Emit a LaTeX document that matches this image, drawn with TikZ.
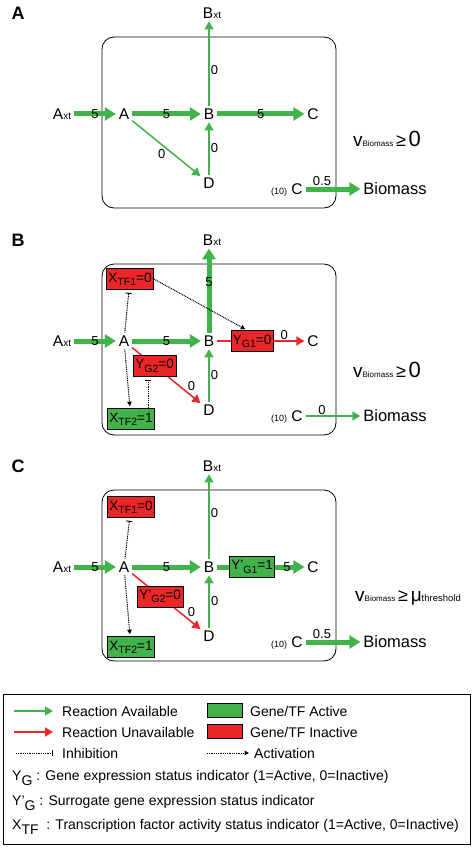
\documentclass[tikz,border=0pt]{standalone}
\usepackage{fontspec}
\setmainfont{Liberation Sans}
\usetikzlibrary{arrows.meta,positioning}
\definecolor{rgreen}{RGB}{66,178,74}
\definecolor{rred}{RGB}{234,38,40}
\newcommand\tn[2][10]{{\fontsize{#1}{#1}\selectfont #2}}
\newcommand\dn[1]{\raisebox{-0.45ex}{\fontsize{10.5}{10.5}\selectfont #1}}
\tikzset{
  panel/.style={font=\bfseries\fontsize{18}{18}\selectfont},
  cell/.style={line width=0.8pt, rounded corners=12pt},
  met/.style={font=\fontsize{15.5}{15.5}\selectfont, inner sep=1pt, outer sep=2pt},
  flux/.style={font=\fontsize{13}{13}\selectfont, inner sep=1pt},
  fat/.style={draw=rgreen, line width=5pt, -{Triangle[length=11pt,width=13pt]}},
  slim/.style={draw=rgreen, line width=1.5pt, -{Triangle[length=8pt,width=9pt]}},
  off/.style={slim, draw=rred},
  gene/.style={draw=black, line width=0.6pt, fill=#1, inner sep=2pt,
    minimum height=21pt, font=\fontsize{13.5}{13.5}\selectfont},
  inhib/.style={dash pattern=on 1pt off 0.8pt, line width=1pt, shorten >=3pt,
    -{Bar[width=6pt,line width=1pt]}},
  activ/.style={dash pattern=on 1pt off 0.8pt, line width=1pt, shorten >=2pt,
    -{Triangle[length=4.5pt,width=4.5pt]}},
  legtxt/.style={anchor=west, font=\fontsize{14}{14}\selectfont, inner sep=0pt},
}
\begin{document}
\begin{tikzpicture}[x=1pt,y=-1pt]
  \useasboundingbox (0,0) rectangle (474,848);
  % common part of the three panels
  \foreach \p/\o/\L in {a/0/A, b/227/B, c/453/C} {
    \node[panel] (\p lbl) at (18,13+\o) {\L};
    \draw[cell] (102,37+\o) rectangle (336,208+\o);
    \node[met] (\p Axt) at (62,114+\o) {A\tn{xt}};
    \node[met] (\p A) at (124,114+\o) {A};
    \node[met] (\p B) at (209,114+\o) {B};
    \node[met] (\p C) at (313,114+\o) {C};
    \node[met] (\p D) at (209,183+\o) {D};
    \node[met] (\p Bxt) at (212,13+\o) {B\tn{xt}};
    \node[met] (\p cC) at (297,189+\o) {C};
    \node[font=\fontsize{9}{9}\selectfont, inner sep=0pt, base left=1pt of \p cC] (\p ten) {(10)};
    \node[met, font=\fontsize{16.5}{16.5}\selectfont] (\p bio) at (395,189+\o) {Biomass};
    \draw[fat] (\p Axt) -- node[flux]{5} (\p A);
    \draw[fat] (\p A) -- node[flux]{5} (\p B);
  }

  % panel A
  \draw[slim] (aB.north) -- node[flux,right,pos=0.42]{0} (aB.north |- aBxt.south);
  \draw[fat] (aB) -- node[flux]{5} (aC);
  \draw[slim] (aD) -- node[flux,right]{0} (aB);
  \draw[slim] (aA) -- node[flux,below left=-1pt]{0} (aD);
  \draw[fat] (acC) -- node[flux,above,pos=0.3]{0.5} (abio);
  \node (avb) at (387,139) {\tn[19]{v}\tn[8]{Biomass} \tn[18]{≥} \tn[22]{0}};

  % panel B
  \node[gene=rred] (bXTF1) at (130,279) {X\dn{TF1}=0};
  \node[gene=rgreen] (bXTF2) at (131,419) {X\dn{TF2}=1};
  \draw[fat] (bB.north) -- node[flux,pos=0.6]{5} (bB.north |- bBxt.south);
  \draw[slim] (bD) -- node[flux,right]{0} (bB);
  \draw[off] (bA) -- node[gene=rred,pos=0.33] (bYG2) {Y\dn{G2}=0}
    node[flux,above right=-1pt,pos=0.8]{0} (bD);
  \draw[off] (bB) -- node[gene=rred,pos=0.4] (bYG1) {Y\dn{G1}=0}
    node[flux,above,pos=0.77]{0} (bC);
  \draw[inhib] (bA) -- (bXTF1);
  \draw[activ] (bA) -- (bXTF2);
  \draw[inhib] ([xshift=17pt]bXTF2.north) -- ([xshift=17pt]bXTF2.north |- bYG2.south);
  \draw[activ] (bXTF1.east) -- ([xshift=-5pt]bYG1.north);
  \draw[slim] (bcC) -- node[flux,above,pos=0.3]{0} (bbio);
  \node (bvb) at (387,370) {\tn[19]{v}\tn[8]{Biomass} \tn[18]{≥} \tn[22]{0}};

  % panel C
  \node[gene=rred] (cXTF1) at (131,507) {X\dn{TF1}=0};
  \node[gene=rgreen] (cXTF2) at (131,647) {X\dn{TF2}=1};
  \draw[slim] (cB.north) -- node[flux,right,pos=0.54]{0} (cB.north |- cBxt.south);
  \draw[fat] (cB) -- node[gene=rgreen,pos=0.4] (cYG1) {Y’\dn{G1}=1}
    node[flux,pos=0.8]{5} (cC);
  \draw[slim, line width=2.4pt] (cD) -- node[flux,right]{0} (cB);
  \draw[off] (cA) -- node[gene=rred,pos=0.41] (cYG2) {Y’\dn{G2}=0}
    node[flux,above right=-1pt,pos=0.8]{0} (cD);
  \draw[inhib] (cA) -- (cXTF1);
  \draw[activ] (cA) -- (cXTF2);
  \draw[fat] (ccC) -- node[flux,above,pos=0.3]{0.5} (cbio);
  \node (cvb) at (408,598) {\tn[19]{v}\tn[8]{Biomass} \tn[18]{≥} \tn[19]{μ}\tn[9.5]{threshold}};

  % legend
  \draw[line width=1pt] (3,694) rectangle (470,844);
  \coordinate (lg0) at (14,711);  \coordinate (lg1) at (53,711);
  \coordinate (lr0) at (14,732);  \coordinate (lr1) at (53,732);
  \coordinate (li0) at (16,753);  \coordinate (li1) at (53,753);
  \coordinate (la0) at (207,753); \coordinate (la1) at (249,753);
  \draw[slim] (lg0) -- (lg1);
  \draw[off] (lr0) -- (lr1);
  \draw[inhib, shorten >=0pt] (li0) -- (li1);
  \draw[activ, shorten >=0pt] (la0) -- (la1);
  \node[legtxt] (lgt) at (62,711) {Reaction Available};
  \node[legtxt] (lrt) at (62,732) {Reaction Unavailable};
  \node[legtxt] (lit) at (62,753) {Inhibition};
  \node[gene=rgreen, minimum width=35pt, minimum height=14pt] (lact) at (224.5,710) {};
  \node[gene=rred, minimum width=35pt, minimum height=14pt] (lina) at (224.5,731) {};
  \node[legtxt] (lactt) at (250,711) {Gene/TF Active};
  \node[legtxt] (linat) at (250,732) {Gene/TF Inactive};
  \node[legtxt] (lat) at (254,753) {Activation};
  \node[legtxt] (ly) at (12,778) {Y\raisebox{-0.6ex}{G} : Gene expression status indicator (1=Active, 0=Inactive)};
  \node[legtxt] (lyp) at (12,803) {Y’\raisebox{-0.6ex}{G} : Surrogate gene expression status indicator};
  \node[legtxt] (lx) at (12,827) {X\raisebox{-0.6ex}{TF} \ : Transcription factor activity status indicator (1=Active, 0=Inactive)};
\end{tikzpicture}
\end{document}
